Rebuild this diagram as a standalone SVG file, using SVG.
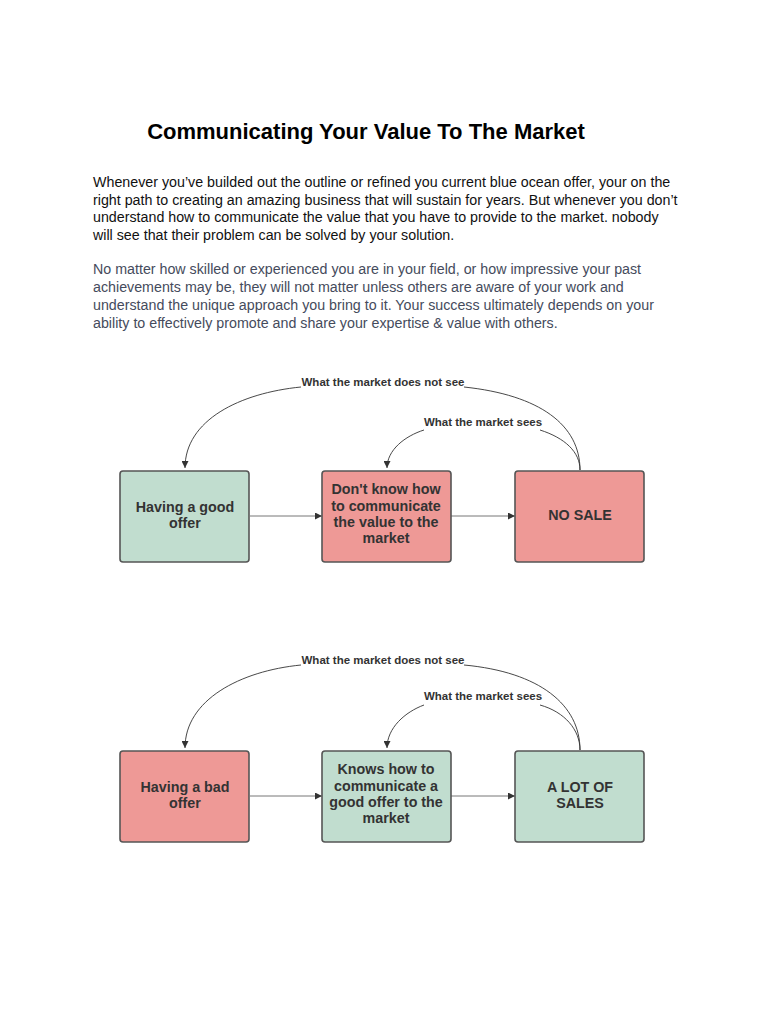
<svg xmlns="http://www.w3.org/2000/svg" width="768" height="1024" viewBox="0 0 768 1024">
<defs>
<marker id="arr" viewBox="0 0 10 10" refX="10" refY="5" markerWidth="7" markerHeight="7" markerUnits="userSpaceOnUse" orient="auto">
<path d="M0,0 L10,5 L0,10 Z" fill="#333"/>
</marker>
<style>
text{font-family:"Liberation Sans",Arial,sans-serif}
.title{font-size:22px;font-weight:bold;fill:#000}
.p1{font-size:14.25px;fill:#111}
.p2{font-size:14.25px;fill:#454b5c}
.lbl{font-size:11.5px;font-weight:bold;fill:#333;text-anchor:middle}
.bt{font-size:14.3px;font-weight:bold;fill:#333;text-anchor:middle}
.green{fill:#c1ddcf;stroke:#555;stroke-width:1.6}
.red{fill:#ee9996;stroke:#555;stroke-width:1.6}
.c{fill:none;stroke:#333;stroke-width:0.9}
.a{fill:none;stroke:#777;stroke-width:1}
</style>
</defs>
<rect width="768" height="1024" fill="#fff"/>
<text class="title" x="366" y="139" text-anchor="middle">Communicating Your Value To The Market</text>
<g id="para1">
<text class="p1" x="93" y="187">Whenever you’ve builded out the outline or refined you current blue ocean offer, your on the</text>
<text class="p1" x="93" y="205">right path to creating an amazing business that will sustain for years. But whenever you don’t</text>
<text class="p1" x="93" y="222">understand how to communicate the value that you have to provide to the market. nobody</text>
<text class="p1" x="93" y="240">will see that their problem can be solved by your solution.</text>
</g>
<g id="para2">
<text class="p2" x="93" y="274">No matter how skilled or experienced you are in your field, or how impressive your past</text>
<text class="p2" x="93" y="292">achievements may be, they will not matter unless others are aware of your work and</text>
<text class="p2" x="93" y="310">understand the unique approach you bring to it. Your success ultimately depends on your</text>
<text class="p2" x="93" y="328">ability to effectively promote and share your expertise &amp; value with others.</text>
</g>

<g id="connectors1">
<path class="c" d="M580,470 C580,425 540,395 464,387"/>
<path class="c" d="M301,387 C240,393 185,420 185,468" marker-end="url(#arr)"/>
<path class="c" d="M580,470 C580,452 565,438 540,430"/>
<path class="c" d="M424,430 C405,436 387,450 387,468" marker-end="url(#arr)"/>
<path class="a" d="M250,516 L322,516" marker-end="url(#arr)"/>
<path class="a" d="M451,516 L515,516" marker-end="url(#arr)"/>
</g>
<text class="lbl" x="383" y="386">What the market does not see</text>
<text class="lbl" x="483" y="426">What the market sees</text>
<g id="n1a"><rect class="green" x="120" y="471" width="129" height="91" rx="3"/>
<text class="bt" x="185" y="512">Having a good</text><text class="bt" x="185" y="528">offer</text></g>
<g id="n1b"><rect class="red" x="322" y="471" width="129" height="91" rx="3"/>
<text class="bt" x="386" y="494">Don't know how</text><text class="bt" x="386" y="511">to communicate</text><text class="bt" x="386" y="527">the value to the</text><text class="bt" x="386" y="543">market</text></g>
<g id="n1c"><rect class="red" x="515" y="471" width="129" height="91" rx="3"/>
<text class="bt" x="580" y="520">NO SALE</text></g>

<g id="connectors2">
<path class="c" d="M580,750 C580,705 540,672 464,665"/>
<path class="c" d="M301,665 C240,671 185,700 185,748" marker-end="url(#arr)"/>
<path class="c" d="M580,750 C580,730 565,712 540,705"/>
<path class="c" d="M424,705 C405,712 387,728 387,748" marker-end="url(#arr)"/>
<path class="a" d="M250,796 L322,796" marker-end="url(#arr)"/>
<path class="a" d="M451,796 L515,796" marker-end="url(#arr)"/>
</g>
<text class="lbl" x="383" y="664">What the market does not see</text>
<text class="lbl" x="483" y="700">What the market sees</text>
<g id="n2a"><rect class="red" x="120" y="751" width="129" height="91" rx="3"/>
<text class="bt" x="185" y="792">Having a bad</text><text class="bt" x="185" y="808">offer</text></g>
<g id="n2b"><rect class="green" x="322" y="751" width="129" height="91" rx="3"/>
<text class="bt" x="386" y="774">Knows how to</text><text class="bt" x="386" y="791">communicate a</text><text class="bt" x="386" y="807">good offer to the</text><text class="bt" x="386" y="823">market</text></g>
<g id="n2c"><rect class="green" x="515" y="751" width="129" height="91" rx="3"/>
<text class="bt" x="580" y="792">A LOT OF</text><text class="bt" x="580" y="808">SALES</text></g>
</svg>
